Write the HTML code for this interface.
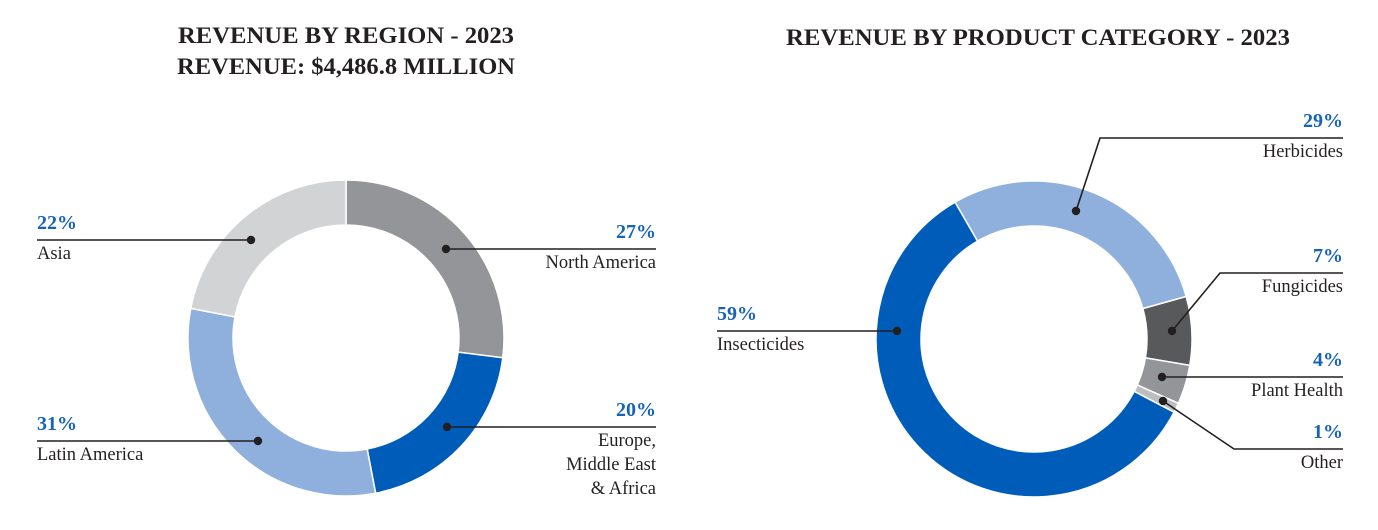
<!DOCTYPE html>
<html><head><meta charset="utf-8">
<style>
html,body{margin:0;padding:0;background:#fff;}
svg{display:block;}
text{font-family:"Liberation Serif",serif;}
.title{font-size:23px;font-weight:bold;fill:#231f20;}
.pct{font-size:20px;font-weight:bold;fill:#1763bb;}
.lab{font-size:18.5px;fill:#231f20;}
</style></head>
<body>
<svg id="chart" width="1378" height="530" viewBox="0 0 1378 530">
  <text class="title" x="346" y="43" text-anchor="middle" textLength="336" lengthAdjust="spacingAndGlyphs">REVENUE BY REGION - 2023</text>
  <text class="title" x="346" y="74" text-anchor="middle" textLength="338" lengthAdjust="spacingAndGlyphs">REVENUE: $4,486.8 MILLION</text>
  <text class="title" x="1038" y="45" text-anchor="middle" textLength="504" lengthAdjust="spacingAndGlyphs">REVENUE BY PRODUCT CATEGORY - 2023</text>
  <g id="left"></g>
  <g id="right"></g>
</svg>
<script>
// Region donut data (clockwise from top)
const regionNames = ["North America", "Europe, Middle East & Africa", "Latin America", "Asia"];
const regionValues = [27, 20, 31, 22];
const regionColors = ["#939598", "#005cb9", "#8fb0dc", "#d1d3d4"];
// Product category donut data (clockwise from -30deg)
const categoryNames = ["Herbicides", "Fungicides", "Plant Health", "Other", "Insecticides"];
const categoryValues = [29, 7, 4, 1, 59];
const categoryColors = ["#8fb0dc", "#58595b", "#939598", "#bcbec0", "#005cb9"];

const NS = "http://www.w3.org/2000/svg";
function mk(tag, attrs, parent){
  const e = document.createElementNS(NS, tag);
  for (const k in attrs) e.setAttribute(k, attrs[k]);
  parent.appendChild(e);
  return e;
}
function pt(cx, cy, r, deg){
  const a = deg * Math.PI / 180;
  return [cx + r * Math.sin(a), cy - r * Math.cos(a)];
}
function donut(g, cx, cy, R, r, startDeg, values, colors, names, prefix){
  const total = values.reduce((a, b) => a + b, 0);
  let a0 = startDeg;
  values.forEach((v, i) => {
    const a1 = a0 + v / total * 360;
    const large = (a1 - a0) > 180 ? 1 : 0;
    const p1 = pt(cx, cy, R, a0), p2 = pt(cx, cy, R, a1), p3 = pt(cx, cy, r, a1), p4 = pt(cx, cy, r, a0);
    const d = `M${p1[0]},${p1[1]} A${R},${R} 0 ${large} 1 ${p2[0]},${p2[1]} L${p3[0]},${p3[1]} A${r},${r} 0 ${large} 0 ${p4[0]},${p4[1]} Z`;
    const path = mk("path", {d: d, fill: colors[i], stroke: "#fff", "stroke-width": 1.5}, g);
    
    
    a0 = a1;
  });
}
function callout(g, pts, pctTxt, labels, x, lineY, anchor, name){
  const grp = mk("g", {}, g);
  
  
  mk("polyline", {points: pts.map(p => p.join(",")).join(" "), fill: "none", stroke: "#231f20", "stroke-width": 1.6}, grp);
  const dp = pts[0];
  mk("circle", {cx: dp[0], cy: dp[1], r: 4.2, fill: "#231f20"}, grp);
  const t = mk("text", {x: x, y: lineY - 11, "text-anchor": anchor, class: "pct"}, grp);
  t.textContent = pctTxt;
  labels.forEach((l, i) => {
    const lt = mk("text", {x: x, y: lineY + 19 + i * 24, "text-anchor": anchor, class: "lab"}, grp);
    lt.textContent = l;
  });
}
const L = document.getElementById("left"), Rg = document.getElementById("right");





donut(L, 346, 338, 158, 113, 0, regionValues, regionColors, regionNames, "region");
callout(L, [[446,249],[656,249]], regionValues[0] + "%", ["North America"], 656, 249, "end", "callout-north-america");
callout(L, [[447,427],[656,427]], regionValues[1] + "%", ["Europe,", "Middle East", "& Africa"], 656, 427, "end", "callout-emea");
callout(L, [[258,441],[37,441]], regionValues[2] + "%", ["Latin America"], 37, 441, "start", "callout-latin-america");
callout(L, [[251,240],[37,240]], regionValues[3] + "%", ["Asia"], 37, 240, "start", "callout-asia");

donut(Rg, 1034, 339, 158, 113, -30, categoryValues, categoryColors, categoryNames, "category");
callout(Rg, [[1076,211],[1100,138],[1343,138]], categoryValues[0] + "%", ["Herbicides"], 1343, 138, "end", "callout-herbicides");
callout(Rg, [[1172,331],[1220,273],[1343,273]], categoryValues[1] + "%", ["Fungicides"], 1343, 273, "end", "callout-fungicides");
callout(Rg, [[1162,377],[1343,377]], categoryValues[2] + "%", ["Plant Health"], 1343, 377, "end", "callout-plant-health");
callout(Rg, [[1163,401],[1234,449],[1343,449]], categoryValues[3] + "%", ["Other"], 1343, 449, "end", "callout-other");
callout(Rg, [[897,331],[717,331]], categoryValues[4] + "%", ["Insecticides"], 717, 331, "start", "callout-insecticides");
</script>
</body></html>
